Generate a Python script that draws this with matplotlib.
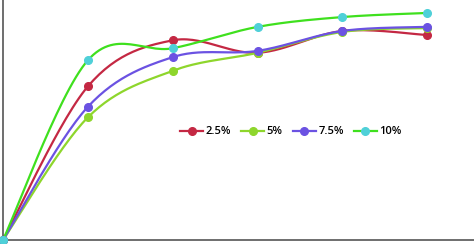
import numpy as np
import matplotlib.pyplot as plt

# x positions of the sampled points
x = [0, 1, 2, 3, 4, 5]

# values (arbitrary 0-100 scale)
s_25 = [0, 64.0, 83.2, 78.0, 87.1, 85.4]
s_5 = [0, 51.1, 70.5, 78.0, 86.7, 88.3]
s_75 = [0, 55.5, 76.2, 78.8, 87.1, 88.8]
s_10 = [0, 74.9, 79.9, 88.8, 92.9, 94.6]

labels = ['2.5%', '5%', '7.5%', '10%']
line_colors = ['#C42843', '#8ED62C', '#6B52E2', '#3FE01E']
marker_colors = ['#C42843', '#8ED62C', '#6B52E2', '#4FD0D8']

N = 30


def smooth(xs, ys, n=N):
    # catmull-rom through the points, like a "smoothed line" chart
    p = np.column_stack([xs, ys]).astype(float)
    p = np.vstack([p[0], p, p[-1]])
    out = []
    for i in range(1, len(p) - 2):
        p0, p1, p2, p3 = p[i - 1], p[i], p[i + 1], p[i + 2]
        t = np.linspace(0, 1, n, endpoint=False)[:, None]
        seg = 0.5 * ((2 * p1) + (-p0 + p2) * t +
                     (2 * p0 - 5 * p1 + 4 * p2 - p3) * t ** 2 +
                     (-p0 + 3 * p1 - 3 * p2 + p3) * t ** 3)
        out.append(seg)
    out.append(p[-2][None, :])
    out = np.vstack(out)
    return out[:, 0], out[:, 1]


fig = plt.figure(figsize=(4.74, 2.44), dpi=100)
ax = fig.add_axes([3 / 474, 4 / 244, 471 / 474, 240 / 244])

for ys, lab, lc, mc in zip([s_25, s_5, s_75, s_10], labels, line_colors, marker_colors):
    sx, sy = smooth(x, ys)
    ax.plot(sx, sy, color=lc, lw=1.6, label=lab)
    ax.plot(x, ys, 'o', ms=5.5, mfc=mc, mec=mc, clip_on=False, zorder=3)

# legend handles: line with a dot in the middle
handles = [plt.Line2D([], [], color=lc, lw=1.6, marker='o', ms=5.5, mfc=mc, mec=mc)
           for lc, mc in zip(line_colors, marker_colors)]

ax.set_xlim(0, 5.55)
ax.set_ylim(0, 100)
ax.set_xticks([])
ax.set_yticks([])
for s in ['top', 'right']:
    ax.spines[s].set_visible(False)
for s in ['left', 'bottom']:
    ax.spines[s].set_color('#555555')
    ax.spines[s].set_linewidth(1.2)

ax.legend(handles, labels, loc='center', bbox_to_anchor=(0.611, 0.45), ncol=4, frameon=False,
          prop={'family': 'Open Sans', 'size': 8, 'weight': 'semibold'},
          handlelength=2.1, columnspacing=0.9, handletextpad=0.2)

fig.savefig('out.png', dpi=100)
